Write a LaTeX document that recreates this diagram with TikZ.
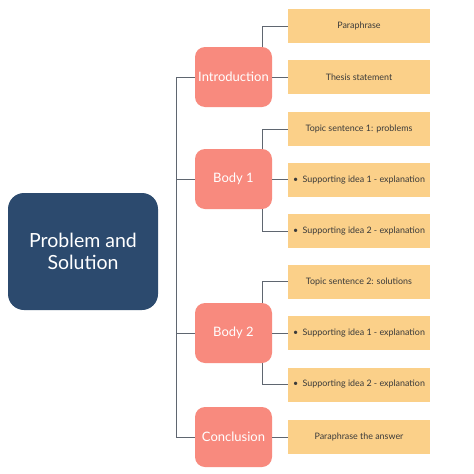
\documentclass[tikz,border=0pt]{standalone}
\usepackage{fontspec}
\setmainfont{Lato}
\definecolor{navy}{HTML}{2C4A6E}
\definecolor{coral}{HTML}{F88A7E}
\definecolor{sand}{HTML}{FBD089}
\definecolor{linec}{HTML}{5F6670}
\definecolor{txt}{HTML}{3A3A3A}
\tikzset{
  mainbox/.style={fill=navy, text=white, rounded corners=16pt, minimum width=150pt, minimum height=117pt, align=center, font=\fontsize{19.5}{22.5}\selectfont, inner sep=0pt},
  secbox/.style={fill=coral, text=white, rounded corners=10pt, minimum width=77pt, minimum height=60pt, font=\fontsize{13}{15}\selectfont, inner sep=0pt},
  leafbox/.style={fill=sand, text=txt, minimum width=142pt, minimum height=34pt, font=\fontsize{8.9}{10}\selectfont, inner sep=0pt},
  conn/.style={draw=linec, line width=1pt}
}
\begin{document}
\begin{tikzpicture}[x=1pt,y=-1pt]
\useasboundingbox (0,0) rectangle (474,474);
\fill[white] (0,0) rectangle (474,474);
\node[mainbox] (main) at (83,251.5) {Problem and\\Solution};
\node[secbox] (intro) at (233.5,77) {Introduction};
\node[secbox] (b1) at (233.5,179) {Body 1};
\node[secbox] (b2) at (233.5,333) {Body 2};
\node[secbox] (conc) at (233.5,437) {Conclusion};
\node[leafbox] (p) at (359,26) {Paraphrase};
\node[leafbox] (t) at (359,77) {Thesis statement};
\node[leafbox] (ts1) at (359,129) {Topic sentence 1: problems};
\node[leafbox] (s11) at (359,180) {•\enspace Supporting idea 1 - explanation};
\node[leafbox] (s12) at (359,231) {•\enspace Supporting idea 2 - explanation};
\node[leafbox] (ts2) at (359,281.5) {Topic sentence 2: solutions};
\node[leafbox] (s21) at (359,333) {•\enspace Supporting idea 1 - explanation};
\node[leafbox] (s22) at (359,384.5) {•\enspace Supporting idea 2 - explanation};
\node[leafbox] (pa) at (359,437) {Paraphrase the answer};
\coordinate (top) at (176,77);
\coordinate (bot) at (176,437);
% bracket
\draw[conn] (intro.west) -- (top) -- (bot) -- (conc.west);
\draw[conn] (b1.west) -- (b1.west -| top);
\draw[conn] (b2.west) -- (b2.west -| top);
% intro branches
\draw[conn] (intro.north -| 262,0) |- (p.west);
\draw[conn] (intro.east) -- (t.west);
% body 1
\draw[conn] (b1.north -| 262,0) |- (ts1.west);
\draw[conn] (b1.east) -- (s11.west |- b1.east);
\draw[conn] (b1.south -| 262,0) |- (s12.west);
% body 2
\draw[conn] (b2.north -| 262,0) |- (ts2.west);
\draw[conn] (b2.east) -- (s21.west);
\draw[conn] (b2.south -| 262,0) |- (s22.west);
% conclusion
\draw[conn] (conc.east) -- (pa.west);
\end{tikzpicture}
\end{document}
